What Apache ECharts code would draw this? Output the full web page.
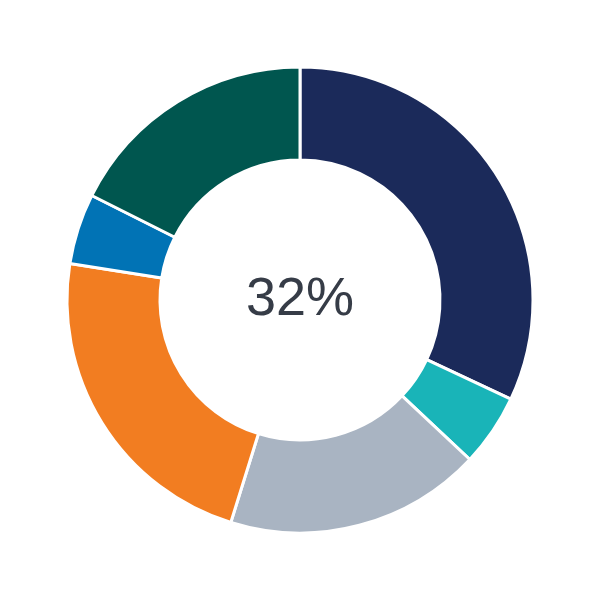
<!DOCTYPE html>
<html><head><meta charset="utf-8">
<script src="https://cdn.jsdelivr.net/npm/echarts@6/dist/echarts.min.js"></script>
<style>html,body{margin:0;padding:0;background:#fff}#c{width:600px;height:600px}</style>
</head><body><div id="c"></div>
<script>
var categories = ['A','B','C','D','E','F'];
var values = [32, 5.0, 17.8, 22.7, 4.9, 17.6];
var colors = ['#1b2a5a','#19b4b8','#a9b4c2','#f27d21','#0173b5','#00564f'];
var centerLabel = '32%';
var chart = echarts.init(document.getElementById('c'));
chart.setOption({
  animation:false,
  graphic:[{type:'text',left:'center',top:'middle',style:{text:centerLabel,fontSize:54,fontFamily:'Liberation Sans, Arial, sans-serif',fill:'#363c47'}}],
  series:[{type:'pie',radius:[140,233],center:[300,300],startAngle:90,clockwise:true,
    label:{show:false},labelLine:{show:false},
    itemStyle:{borderColor:'#fff',borderWidth:3},
    data:categories.map(function(c,i){return {name:c,value:values[i],itemStyle:{color:colors[i]}};})
  }]
});
</script></body></html>
